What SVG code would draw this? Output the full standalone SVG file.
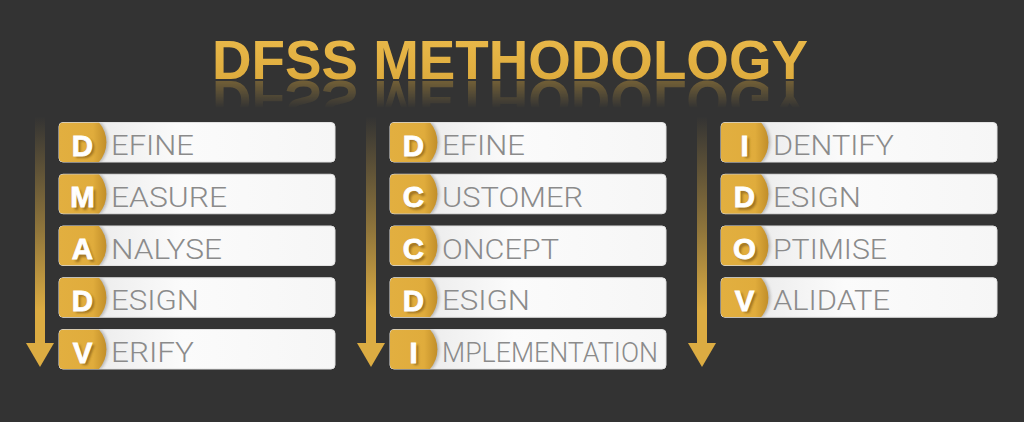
<svg xmlns="http://www.w3.org/2000/svg" xmlns:xlink="http://www.w3.org/1999/xlink" width="1024" height="422" viewBox="0 0 1024 422">
<defs>
<style>
.title{font-family:"Liberation Sans",Arial,sans-serif;font-weight:bold;font-size:56px;}
.ltr{font-family:"Liberation Sans",Arial,sans-serif;font-weight:bold;font-size:29.5px;text-anchor:middle;}
.sh{fill:#8f661b;stroke:none;opacity:0.8;filter:url(#blur1);}
.fg{fill:#ffffff;stroke:#ffffff;stroke-width:0.8;}
.lbl{font-family:Roboto,"Liberation Sans",sans-serif;font-weight:300;font-size:27.5px;fill:#8b8b8b;}
</style>
<linearGradient id="titleGrad" x1="0" y1="0" x2="0" y2="1">
<stop offset="0" stop-color="#ebbb4c"/>
<stop offset="1" stop-color="#dba83a"/>
</linearGradient>
<linearGradient id="fadeGrad" x1="0" y1="0" x2="0" y2="1">
<stop offset="0" stop-color="#fff" stop-opacity="0.38"/>
<stop offset="1" stop-color="#fff" stop-opacity="0"/>
</linearGradient>
<mask id="fade" maskUnits="userSpaceOnUse" x="0" y="80" width="1024" height="32">
<rect x="0" y="80" width="1024" height="28" fill="url(#fadeGrad)"/>
</mask>
<linearGradient id="boxGrad" x1="0" y1="0" x2="1" y2="0">
<stop offset="0" stop-color="#e6e6e6"/>
<stop offset="0.45" stop-color="#fbfbfb"/>
<stop offset="1" stop-color="#f6f6f6"/>
</linearGradient>
<linearGradient id="badgeGrad" x1="0" y1="0" x2="1" y2="0">
<stop offset="0" stop-color="#e2af40"/>
<stop offset="0.72" stop-color="#e0ac3c"/>
<stop offset="1" stop-color="#c18e29"/>
</linearGradient>
<linearGradient id="shaftGrad" gradientUnits="userSpaceOnUse" x1="0" y1="116" x2="0" y2="345">
<stop offset="0" stop-color="#dcac42" stop-opacity="0"/>
<stop offset="0.5" stop-color="#dcac42" stop-opacity="0.55"/>
<stop offset="0.85" stop-color="#dcac42" stop-opacity="1"/>
</linearGradient>
<filter id="blur1" x="-20%" y="-20%" width="140%" height="140%">
<feGaussianBlur stdDeviation="1.3"/>
</filter>
<filter id="blur2" x="-20%" y="-20%" width="140%" height="140%">
<feGaussianBlur stdDeviation="1.8"/>
</filter>
<clipPath id="boxClip">
<rect x="0" y="0" width="276" height="39.5" rx="4"/>
</clipPath>
<g id="box">
<rect x="0" y="0" width="276" height="39.5" rx="4" fill="url(#boxGrad)" stroke="#e2e2e2" stroke-width="1"/>
<g clip-path="url(#boxClip)">
<path d="M4,0 H42 A30 30 0 0 1 42,39.5 H4 Z" fill="#8a8a8a" opacity="0.55" filter="url(#blur2)"/>
<path d="M4,0 H40 A30 30 0 0 1 40,39.5 H4 A4 4 0 0 1 0,35.5 V4 A4 4 0 0 1 4,0 Z" fill="url(#badgeGrad)"/>
</g>
</g>
</defs>
<rect x="0" y="0" width="1024" height="422" fill="#333333"/>
<g id="title">
<text id="titleText" class="title" x="212" y="79" textLength="596" lengthAdjust="spacingAndGlyphs" fill="url(#titleGrad)">DFSS METHODOLOGY</text>
<g mask="url(#fade)">
<use xlink:href="#titleText" transform="translate(0,160) scale(1,-1)"/>
</g>
</g>
<g id="connectors">
<rect x="35" y="116" width="10" height="229" fill="url(#shaftGrad)"/>
<polygon points="26,343 54,343 40,367" fill="#dcac42"/>
<rect x="366" y="116" width="10" height="229" fill="url(#shaftGrad)"/>
<polygon points="357,343 385,343 371,367" fill="#dcac42"/>
<rect x="697" y="116" width="10" height="229" fill="url(#shaftGrad)"/>
<polygon points="688,343 716,343 702,367" fill="#dcac42"/>
</g>
<g id="dmadv">
<g id="dmadv-define" transform="translate(59,122.5)"><use xlink:href="#box"/><use xlink:href="#L1" class="sh" x="2.5" y="2.5"/><g class="fg"><text id="L1" class="ltr" x="23.5" y="33">D</text></g><text class="lbl" x="52" y="32.5" textLength="83" lengthAdjust="spacingAndGlyphs">EFINE</text></g>
<g id="dmadv-measure" transform="translate(59,174.25)"><use xlink:href="#box"/><use xlink:href="#L2" class="sh" x="2.5" y="2.5"/><g class="fg"><text id="L2" class="ltr" x="23.5" y="33">M</text></g><text class="lbl" x="52" y="32.5" textLength="116" lengthAdjust="spacingAndGlyphs">EASURE</text></g>
<g id="dmadv-analyse" transform="translate(59,226)"><use xlink:href="#box"/><use xlink:href="#L3" class="sh" x="2.5" y="2.5"/><g class="fg"><text id="L3" class="ltr" x="23.5" y="33">A</text></g><text class="lbl" x="52" y="32.5" textLength="111" lengthAdjust="spacingAndGlyphs">NALYSE</text></g>
<g id="dmadv-design" transform="translate(59,277.75)"><use xlink:href="#box"/><use xlink:href="#L4" class="sh" x="2.5" y="2.5"/><g class="fg"><text id="L4" class="ltr" x="23.5" y="33">D</text></g><text class="lbl" x="52" y="32.5" textLength="88" lengthAdjust="spacingAndGlyphs">ESIGN</text></g>
<g id="dmadv-verify" transform="translate(59,329.5)"><use xlink:href="#box"/><use xlink:href="#L5" class="sh" x="2.5" y="2.5"/><g class="fg"><text id="L5" class="ltr" x="23.5" y="33">V</text></g><text class="lbl" x="52" y="32.5" textLength="83" lengthAdjust="spacingAndGlyphs">ERIFY</text></g>
</g>
<g id="dccdi">
<g id="dccdi-define" transform="translate(390,122.5)"><use xlink:href="#box"/><use xlink:href="#L6" class="sh" x="2.5" y="2.5"/><g class="fg"><text id="L6" class="ltr" x="23.5" y="33">D</text></g><text class="lbl" x="52" y="32.5" textLength="83" lengthAdjust="spacingAndGlyphs">EFINE</text></g>
<g id="dccdi-customer" transform="translate(390,174.25)"><use xlink:href="#box"/><use xlink:href="#L7" class="sh" x="2.5" y="2.5"/><g class="fg"><text id="L7" class="ltr" x="23.5" y="33">C</text></g><text class="lbl" x="52" y="32.5" textLength="141" lengthAdjust="spacingAndGlyphs">USTOMER</text></g>
<g id="dccdi-concept" transform="translate(390,226)"><use xlink:href="#box"/><use xlink:href="#L8" class="sh" x="2.5" y="2.5"/><g class="fg"><text id="L8" class="ltr" x="23.5" y="33">C</text></g><text class="lbl" x="52" y="32.5" textLength="117" lengthAdjust="spacingAndGlyphs">ONCEPT</text></g>
<g id="dccdi-design" transform="translate(390,277.75)"><use xlink:href="#box"/><use xlink:href="#L9" class="sh" x="2.5" y="2.5"/><g class="fg"><text id="L9" class="ltr" x="23.5" y="33">D</text></g><text class="lbl" x="52" y="32.5" textLength="88" lengthAdjust="spacingAndGlyphs">ESIGN</text></g>
<g id="dccdi-implementation" transform="translate(390,329.5)"><use xlink:href="#box"/><use xlink:href="#L10" class="sh" x="2.5" y="2.5"/><g class="fg"><text id="L10" class="ltr" x="23.5" y="33">I</text></g><text class="lbl" x="52" y="32.5" textLength="216" lengthAdjust="spacingAndGlyphs">MPLEMENTATION</text></g>
</g>
<g id="idov">
<g id="idov-identify" transform="translate(721,122.5)"><use xlink:href="#box"/><use xlink:href="#L11" class="sh" x="2.5" y="2.5"/><g class="fg"><text id="L11" class="ltr" x="23.5" y="33">I</text></g><text class="lbl" x="52" y="32.5" textLength="121" lengthAdjust="spacingAndGlyphs">DENTIFY</text></g>
<g id="idov-design" transform="translate(721,174.25)"><use xlink:href="#box"/><use xlink:href="#L12" class="sh" x="2.5" y="2.5"/><g class="fg"><text id="L12" class="ltr" x="23.5" y="33">D</text></g><text class="lbl" x="52" y="32.5" textLength="88" lengthAdjust="spacingAndGlyphs">ESIGN</text></g>
<g id="idov-optimise" transform="translate(721,226)"><use xlink:href="#box"/><use xlink:href="#L13" class="sh" x="2.5" y="2.5"/><g class="fg"><text id="L13" class="ltr" x="23.5" y="33">O</text></g><text class="lbl" x="52" y="32.5" textLength="114" lengthAdjust="spacingAndGlyphs">PTIMISE</text></g>
<g id="idov-validate" transform="translate(721,277.75)"><use xlink:href="#box"/><use xlink:href="#L14" class="sh" x="2.5" y="2.5"/><g class="fg"><text id="L14" class="ltr" x="23.5" y="33">V</text></g><text class="lbl" x="52" y="32.5" textLength="117" lengthAdjust="spacingAndGlyphs">ALIDATE</text></g>
</g>
</svg>
